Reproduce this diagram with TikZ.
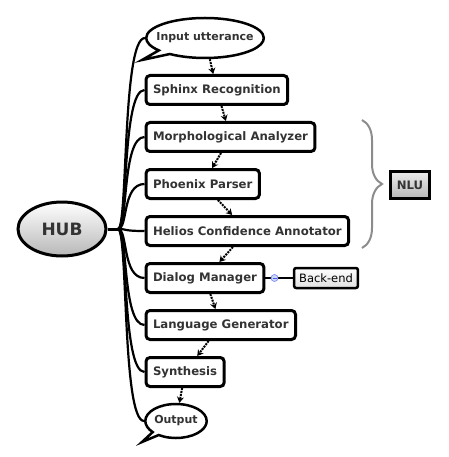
\documentclass[tikz,border=0pt]{standalone}
\usepackage{fontspec}
\setmainfont{DejaVu Sans}
\usetikzlibrary{arrows.meta,shapes.geometric,shapes.callouts,decorations.pathreplacing}
\definecolor{ink}{HTML}{333333}
\definecolor{knob}{HTML}{C9D9F2}
\begin{document}
\begin{tikzpicture}[x=1pt,y=-1pt,
    module/.style={draw,line width=3pt,rounded corners=4pt,fill=white,anchor=west,
      minimum height=29pt,inner xsep=7pt,text=ink,font=\bfseries\fontsize{11.7}{13}\selectfont},
    bubble/.style={ellipse callout,draw,line width=2.5pt,fill=white,inner ysep=1pt,
      text=ink,font=\bfseries\fontsize{11}{13}\selectfont},
    flow/.style={densely dotted,line width=2pt,-{Stealth[length=6pt,width=7pt]}},
    link/.style={line width=2.2pt}]
  \useasboundingbox (0,0) rectangle (448,457);

  % pipeline
  \node[bubble,inner xsep=-7pt,minimum height=40pt,callout absolute pointer={(142,60)}] (input) at (205,38) {Input utterance};
  \node[module] (sphinx) at (144.5,90) {Sphinx Recognition};
  \node[module] (morph) at (144.5,137) {Morphological Analyzer};
  \node[module] (phoenix) at (144.5,184) {Phoenix Parser};
  \node[module] (helios) at (144.5,231) {Helios Confidence Annotator};
  \node[module] (dialog) at (144.5,278) {Dialog Manager};
  \node[module] (langgen) at (144.5,325) {Language Generator};
  \node[module] (synth) at (144.5,372) {Synthesis};
  \node[bubble,inner xsep=0pt,minimum height=34pt,callout absolute pointer={(142,442)}] (output) at (176,421) {Output};

  % hub
  \node[ellipse,draw,line width=3pt,top color=white,bottom color=black!28,minimum width=88pt,minimum height=54pt,
    text=ink,font=\bfseries\fontsize{17}{19}\selectfont] (hub) at (62,229) {HUB};
  \coordinate (trunk) at (118,229);
  \foreach \n in {input,sphinx,morph,phoenix,helios,dialog,langgen,synth,output}
    \draw[link] (trunk) .. controls (128,229) and (122,0|-\n.west) .. (\n.west);
  \draw[line width=3pt] (hub.east) -- (trunk);

  \foreach \a/\b in {input/sphinx,sphinx/morph,morph/phoenix,phoenix/helios,helios/dialog,dialog/langgen,langgen/synth,synth/output}
    \draw[flow] (\a) -- (\b);

  % back-end
  \node[draw,line width=2.5pt,rounded corners=2pt,top color=white,bottom color=black!12,minimum height=20pt,
    inner xsep=5pt,text=black,font=\fontsize{11.5}{13}\selectfont] (backend) at (326,278) {Back-end};
  \draw[line width=2.5pt] (dialog.east) -- (backend.west);
  \node[circle,draw=knob!60!blue,fill=knob,line width=0.6pt,inner sep=0pt,minimum size=7pt] (knob) at (274.5,278) {};
  \draw[knob!40!blue,line width=0.6pt] (272.5,278) -- (276.5,278);

  % NLU
  \draw[black!45,line width=2pt,decorate,decoration={brace,amplitude=20pt}] (362,120) -- (362,248);
  \node[draw,line width=3pt,top color=black!8,bottom color=black!28,minimum width=39pt,minimum height=27pt,
    text=ink,font=\bfseries\fontsize{11.7}{13}\selectfont] (nlu) at (410,185) {NLU};
\end{tikzpicture}
\end{document}
